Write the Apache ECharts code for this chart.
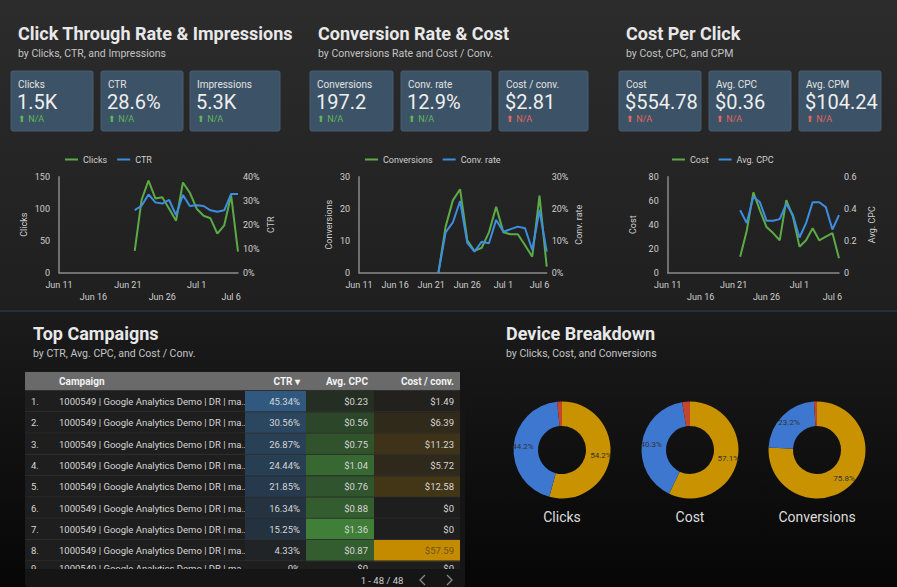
<!DOCTYPE html>
<html><head><meta charset="utf-8">
<script src="https://cdn.jsdelivr.net/npm/echarts@6/dist/echarts.min.js"></script>
<style>
html,body{margin:0;padding:0;background:#111;}
#c{width:897px;height:587px;background:linear-gradient(180deg,#2c2c2c 0%,#1f1f1f 52%,#1b1b1b 53.5%,#060606 100%);}
</style>
</head><body><div id="c"></div>
<script>
// ---------- DATA ----------
const dates = ['Jun 11','Jun 12','Jun 13','Jun 14','Jun 15','Jun 16','Jun 17','Jun 18','Jun 19','Jun 20','Jun 21','Jun 22','Jun 23','Jun 24','Jun 25','Jun 26','Jun 27','Jun 28','Jun 29','Jun 30','Jul 1','Jul 2','Jul 3','Jul 4','Jul 5','Jul 6','Jul 7'];
const N = null;
const clicks      = [N,N,N,N,N,N,N,N,N,N,N, 34,114,144,116,118,100,81,141,125,100,89,85,61,74,121,33];
const ctr         = [N,N,N,N,N,N,N,N,N,N,N, 26.1,27.9,32.6,29.3,28.8,30.3,24.0,32.4,27.8,28.1,27.8,26.0,25.4,26.0,32.8,32.8];
const conversions = [N,N,N,N,N,N,N,N,N,N,N, 0,14.4,22.6,26.1,10.1,6.8,7.8,12.6,20.6,12.6,12.0,12.0,8.6,5.0,24.1,1.9];
const convRate    = [N,N,N,N,N,N,N,N,N,N,N, 0,12.6,15.7,22.4,9.3,6.6,9.7,9.2,16.5,12.8,13.6,14.4,13.9,7.1,19.6,6.6];
const cost        = [N,N,N,N,N,N,N,N,N,N,N, 13.3,35,67,52,38,33,27,60.5,47,21.7,27,37,27,30,33,12];
const avgCpc      = [N,N,N,N,N,N,N,N,N,N,N, 0.39,0.31,0.475,0.44,0.325,0.325,0.335,0.43,0.36,0.22,0.31,0.44,0.44,0.41,0.27,0.36];

const sectionTitles = ['Click Through Rate & Impressions','Conversion Rate & Cost','Cost Per Click','Top Campaigns','Device Breakdown'];
const sectionSubs = ['by Clicks, CTR, and Impressions','by Conversions Rate and Cost / Conv.','by Cost, CPC, and CPM','by CTR, Avg. CPC, and Cost / Conv.','by Clicks, Cost, and Conversions'];

const kpiLabels = ['Clicks','CTR','Impressions','Conversions','Conv. rate','Cost / conv.','Cost','Avg. CPC','Avg. CPM'];
const kpiValues = ['1.5K','28.6%','5.3K','197.2','12.9%','$2.81','$554.78','$0.36','$104.24'];
const kpiDelta  = ['N/A','N/A','N/A','N/A','N/A','N/A','N/A','N/A','N/A'];
const kpiGood   = [true,true,true,true,true,false,false,false,false];

const tableHeader = ['', 'Campaign', 'CTR \u25BE', 'Avg. CPC', 'Cost / conv.'];
const campaignNames = Array(9).fill('1000549 | Google Analytics Demo | DR | ma\u2026');
const ctrVals  = [45.34,30.56,26.87,24.44,21.85,16.34,15.25,4.33,0];
const cpcVals  = [0.23,0.56,0.75,1.04,0.76,0.88,1.36,0.87,0];
const costConvVals = [1.49,6.39,11.23,5.72,12.58,0,0,57.59,0];
const pagerText = '1 - 48 / 48';

const deviceNames = ['Mobile','Desktop','Tablet'];
const clicksShare = [54.2,44.2,1.6];
const costShare   = [57.1,40.3,2.6];
const convShare   = [75.8,23.2,1.0];
const donutTitles = ['Clicks','Cost','Conversions'];

// ---------- STYLE / LAYOUT ----------
const FONT = 'Roboto, "Noto Sans", sans-serif';
const GREEN = '#5cab46', BLUE = '#3d8ee0';
const DEVICE_COLORS = ['#c99200','#3d77d0','#c4452e'];
const AXIS_C = '#cfcfcf';

const chart = echarts.init(document.getElementById('c'), null, {renderer:'svg', width:897, height:587});

function mix(a, b, t){
  const pa=[1,3,5].map(i=>parseInt(a.substr(i,2),16)), pb=[1,3,5].map(i=>parseInt(b.substr(i,2),16));
  return 'rgb('+pa.map((v,i)=>Math.round(v+(pb[i]-v)*t)).join(',')+')';
}

const graphics = [];
graphics.push({type:'rect', shape:{x:0,y:310,width:897,height:2}, style:{fill:'#26303b'}, z:0});
const titlePos = [[18,33],[318,33],[626,33],[33,333],[506,333]];
titlePos.forEach((p,i)=>{
  graphics.push({type:'text', x:p[0], y:p[1], style:{text:sectionTitles[i], fill:'#e8e8e8', font:'bold 18px '+FONT, textVerticalAlign:'middle'}});
  graphics.push({type:'text', x:p[0], y:p[1]+20, style:{text:sectionSubs[i], fill:'#c4c4c4', font:'10.5px '+FONT, textVerticalAlign:'middle'}});
});
const cardX = [11,101,190,310,401,499,619,709,799];
const cardW = [82,82,90,83,90,89,82,82,82];
kpiLabels.forEach((l,i)=>{
  const x = cardX[i];
  graphics.push({type:'rect', shape:{x:x,y:71,width:cardW[i],height:60,r:2}, style:{fill:'#3c5266',stroke:'#475d72',lineWidth:1}, z:0});
  graphics.push({type:'text', x:x+7, y:84, style:{text:l, fill:'#e2e2e2', font:'10px '+FONT, textVerticalAlign:'middle'}});
  graphics.push({type:'text', x:x+6, y:101.5, style:{text:kpiValues[i], fill:'#eeeeee', font:'20px '+FONT, textVerticalAlign:'middle'}});
  const col = kpiGood[i] ? '#62b65c' : '#e0665e';
  graphics.push({type:'text', x:x+7, y:119, style:{text:'\u2B06 '+kpiDelta[i], fill:col, font:'9px '+FONT, textVerticalAlign:'middle'}});
});
graphics.push({type:'rect', shape:{x:25,y:371,width:440,height:216,r:3}, style:{fill:'#151515'}, z:0});
graphics.push({type:'text', x:382, y:580, style:{text:pagerText, fill:'#cfcfcf', font:'9.5px '+FONT, textAlign:'center', textVerticalAlign:'middle'}});
// pager chevrons (icons)
graphics.push({type:'polyline', shape:{points:[[425,575],[420,580],[425,585]]}, style:{stroke:'#8a8a8a', lineWidth:1.3, fill:null}});
graphics.push({type:'polyline', shape:{points:[[447,575],[452,580],[447,585]]}, style:{stroke:'#8a8a8a', lineWidth:1.3, fill:null}});
const donutCenters = [[562,450],[690,450],[817,450]];
donutTitles.forEach((t,i)=>{
  graphics.push({type:'text', x:donutCenters[i][0], y:517, style:{text:t, fill:'#dcdcdc', font:'14px '+FONT, textAlign:'center', textVerticalAlign:'middle'}});
});

// ---------- line charts ----------
const grids = [
  {left:59, top:176.7, width:179, height:96},
  {left:359, top:176.7, width:187.7, height:96},
  {left:667.7, top:176.7, width:171.3, height:96},
  {left:25, top:371.7, width:435, height:197.3}
];
grids.forEach(g=>{g.outerBoundsMode='none'; g.containLabel=false;});

function xAx(gi, stagger){
  return {type:'category', gridIndex:gi, data:dates, boundaryGap:false,
    axisLine:{show:true, lineStyle:{color:'#8a8a8a', width:1.5}}, axisTick:{show:false}, splitLine:{show:false},
    axisLabel:{interval:4, color:AXIS_C, fontSize:9, fontFamily:FONT, margin:6, lineHeight:12, hideOverlap:false,
      formatter:(v,i)=> (stagger && (i/5)%2===1) ? '\n'+v : v}};
}
function yAx(gi, pos, max, interval, name, gap, fmt){
  return {type:'value', gridIndex:gi, position:pos, min:0, max:max, interval:interval,
    name:name, nameLocation:'middle', nameGap:gap, nameRotate:90,
    nameTextStyle:{color:AXIS_C, fontSize:9, fontFamily:FONT},
    axisLine:{show:pos==='left', lineStyle:{color:'#8a8a8a', width:1.5}}, axisTick:{show:false}, splitLine:{show:false},
    axisLabel:{color:AXIS_C, fontSize:9, fontFamily:FONT, margin:pos==='left'?9:5, formatter:fmt}};
}
const xAxes = [xAx(0,true), xAx(1,false), xAx(2,true),
  {type:'value', gridIndex:3, min:0, max:435, show:false}];
const yAxes = [
  yAx(0,'left',150,50,'Clicks',31), yAx(0,'right',40,10,'CTR',28,'{value}%'),
  yAx(1,'left',30,10,'Conversions',26), yAx(1,'right',30,10,'Conv. rate',28,'{value}%'),
  yAx(2,'left',80,20,'Cost',30), yAx(2,'right',0.6,0.2,'Avg. CPC',28, v=>v===0?'0':v.toFixed(1)),
  {type:'value', gridIndex:3, min:-0.906, max:8.357, inverse:true, show:false}
];
function line(name, data, xi, yi, color){
  return {type:'line', name:name, data:data, xAxisIndex:xi, yAxisIndex:yi, symbol:'none', showSymbol:false,
    lineStyle:{color:color, width:2}, itemStyle:{color:color}, connectNulls:false, silent:true, animation:false};
}
const legendBase = {orient:'horizontal', top:150, icon:'rect', itemWidth:13, itemHeight:2, itemGap:10,
  textStyle:{color:'#cfcfcf', fontSize:9, fontFamily:FONT}, selectedMode:false};
const legends = [
  Object.assign({}, legendBase, {left:60, data:['Clicks','CTR']}),
  Object.assign({}, legendBase, {left:360, data:['Conversions','Conv. rate']}),
  Object.assign({}, legendBase, {left:667, data:['Cost','Avg. CPC']})
];

// ---------- table (custom series) ----------
const COL_EDGES = [0,34,220,281,349,435];
const ctrMax = Math.max(...ctrVals), cpcMax = Math.max(...cpcVals), ccMax = Math.max(...costConvVals);
const fmtPct = v => v===0 ? '0%' : v.toFixed(2)+'%';
const fmtUsd = v => v===0 ? '$0' : '$'+v.toFixed(2);
const cellData = [];
for (let r=-1; r<campaignNames.length; r++) for (let c=0; c<5; c++) cellData.push([r,c]);
const lastRow = campaignNames.length - 1;

function cellInfo(r,c){
  if (r<0) return {text:tableHeader[c], fill:'#6a6a6a', color:'#f2f2f2', bold:true};
  const base = '#1e1e1e';
  if (c===0) return {text:(r+1)+'.', fill:base, color:'#d6d6d6'};
  if (c===1) return {text:campaignNames[r], fill:base, color:'#d6d6d6'};
  if (c===2) return {text:fmtPct(ctrVals[r]), fill:mix(base,'#31597f',ctrVals[r]/ctrMax), color:'#d6d6d6'};
  if (c===3) return {text:fmtUsd(cpcVals[r]), fill:mix(base,'#3f7f38',cpcVals[r]/cpcMax), color:'#d6d6d6'};
  const t = costConvVals[r]/ccMax;
  return {text:fmtUsd(costConvVals[r]), fill:mix(base,'#c48a00',t), color: t>0.7 ? '#6f5612' : '#d6d6d6'};
}
const tableSeries = {
  type:'custom', xAxisIndex:3, yAxisIndex:6, data:cellData, clip:true, silent:true, animation:false,
  renderItem:(params, api)=>{
    const r = api.value(0), c = api.value(1);
    const y0 = r<0 ? -0.906 : r, y1 = r<0 ? 0 : r+1;
    const p0 = api.coord([COL_EDGES[c], y0]), p1 = api.coord([COL_EDGES[c+1], y1]);
    const x=p0[0], y=p0[1], w=p1[0]-p0[0], h=p1[1]-p0[1];
    const info = cellInfo(r,c);
    const right = c>=2;
    const tx = right ? x+w-6 : (c===0 ? x+6 : x);
    const isLast = r===lastRow;
    return {type:'group', children:[
      {type:'rect', shape:{x:x,y:y,width:w,height:h}, style:{fill:info.fill}},
      {type:'line', shape:{x1:x,y1:y+h-0.5,x2:x+w,y2:y+h-0.5}, style:{stroke:'#2f2f2f', lineWidth:1}},
      {type:'text', x:tx, y: isLast ? y+2 : y+h/2, style:{text:info.text, fill:info.color,
        font:(info.bold?'bold 10px ':'9.5px ')+FONT, textAlign:right?'right':'left', textVerticalAlign: isLast ? 'top' : 'middle'}}
    ]};
  }
};

// ---------- donuts ----------
function donut(vals, center){
  return {type:'pie', center:center, radius:[24,48.5], startAngle:90, clockwise:true, silent:true, animation:false,
    data: vals.map((v,i)=>({name:deviceNames[i], value:v, itemStyle:{color:DEVICE_COLORS[i]}})),
    label:{show:true, position:'inside', formatter:p=> p.value>=5 ? p.value.toFixed(1)+'%' : '', color:'#333333', fontSize:8, fontFamily:FONT},
    labelLine:{show:false}, itemStyle:{borderWidth:0}, emphasis:{disabled:true}};
}

chart.setOption({
  backgroundColor:'transparent',
  animation:false,
  textStyle:{fontFamily:FONT},
  grid:grids, xAxis:xAxes, yAxis:yAxes, legend:legends,
  tooltip:{show:false},
  graphic:{elements:graphics},
  series:[
    line('Clicks', clicks, 0, 0, GREEN), line('CTR', ctr, 0, 1, BLUE),
    line('Conversions', conversions, 1, 2, GREEN), line('Conv. rate', convRate, 1, 3, BLUE),
    line('Cost', cost, 2, 4, GREEN), line('Avg. CPC', avgCpc, 2, 5, BLUE),
    tableSeries,
    donut(clicksShare, donutCenters[0]), donut(costShare, donutCenters[1]), donut(convShare, donutCenters[2])
  ]
});
</script>
</body></html>
